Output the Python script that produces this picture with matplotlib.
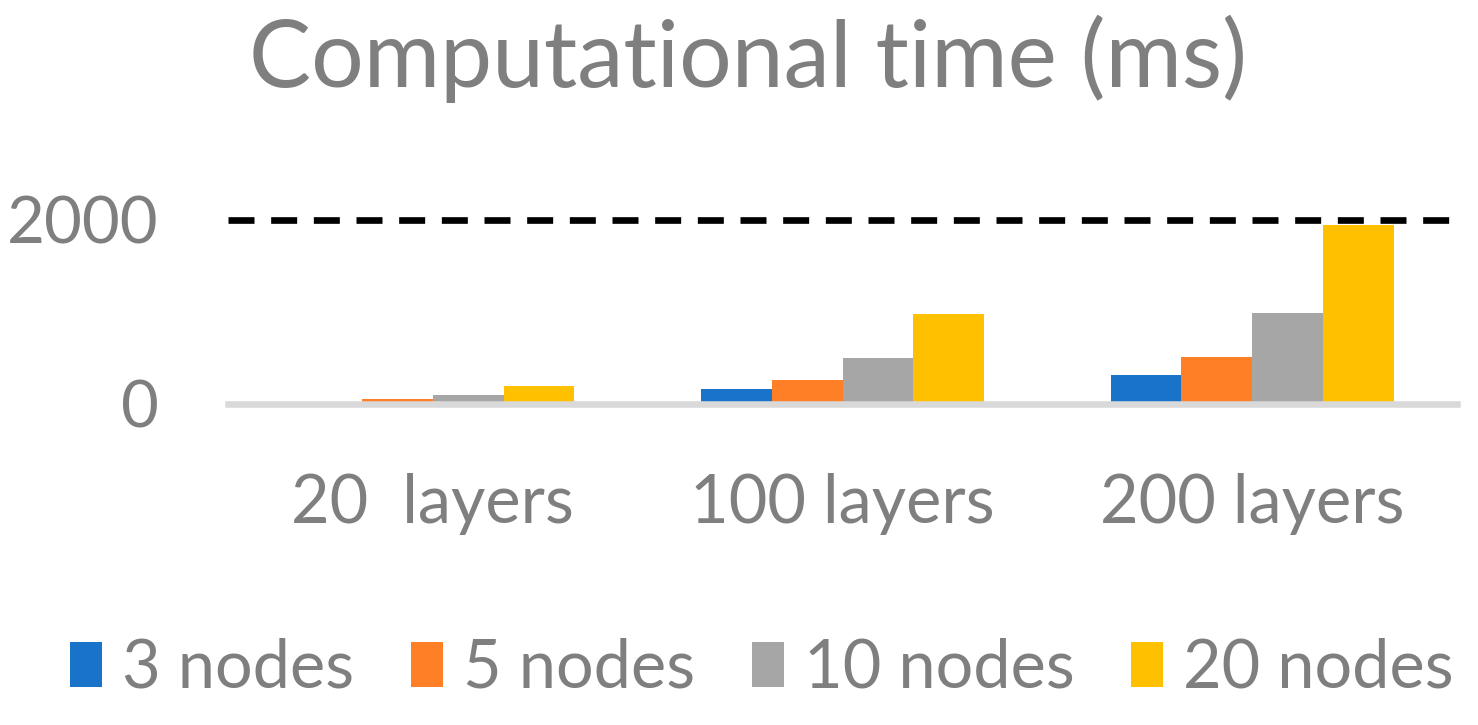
import numpy as np
import matplotlib
matplotlib.use("Agg")
import matplotlib.pyplot as plt
from matplotlib.patches import Patch

categories = ["20  layers", "100 layers", "200 layers"]
series_names = ["3 nodes", "5 nodes", "10 nodes", "20 nodes"]
nodes_3 = [15, 160, 315]
nodes_5 = [50, 260, 510]
nodes_10 = [100, 500, 990]
nodes_20 = [195, 980, 1950]
limit_ms = 2000
y_ticks = [0, 2000]

colors = ["#1873C9", "#FF7F27", "#A6A6A6", "#FFC000"]
text_color = "#7F7F7F"

plt.rcParams["font.family"] = ["Lato", "DejaVu Sans"]

W, H = 1478, 725
fig = plt.figure(figsize=(W / 100, H / 100), dpi=100)

# plot area in pixels: x 228..1457, zero at y=404, 2000 at y=220
ymax = 2200
px_per_unit = (404 - 220) / 2000
ax_h = ymax * px_per_unit
ax = fig.add_axes([228 / W, (H - 404) / H, (1457 - 228) / W, ax_h / H])

x = np.arange(len(categories))
w = 0.1726
values = [nodes_3, nodes_5, nodes_10, nodes_20]
for i, (vals, c) in enumerate(zip(values, colors)):
    ax.bar(x + (i - 1.5) * w, vals, w, color=c, zorder=2)

ax.axhline(limit_ms, color="black", lw=4.8, dashes=(3.9, 2.5), zorder=3, clip_on=False)

ax.set_xlim(-0.5, len(categories) - 0.5)
ax.set_ylim(0, ymax)
for s in ["top", "right", "left"]:
    ax.spines[s].set_visible(False)
ax.spines["bottom"].set_color("#D9D9D9")
ax.spines["bottom"].set_linewidth(4.7)
ax.spines["bottom"].set_zorder(4)

ax.set_yticks(y_ticks)
ax.set_yticklabels([str(t) for t in y_ticks])
ax.set_xticks(x)
ax.set_xticklabels(categories)
ax.tick_params(axis="y", length=0, pad=50, labelsize=47, labelcolor=text_color)
ax.tick_params(axis="x", length=0, pad=50, labelsize=48, labelcolor=text_color)

fig.text(748 / W, 1 - 87 / H, "Computational time (ms)", ha="center", va="baseline",
         fontsize=67, color=text_color)

handles = [Patch(facecolor=c) for c in colors]
leg = fig.legend(handles, series_names, loc="center", bbox_to_anchor=(762 / W, 1 - 669 / H),
                 ncol=4, frameon=False, fontsize=48, labelcolor=text_color,
                 handlelength=0.48, handleheight=0.66, handletextpad=0.3,
                 columnspacing=0.85, borderpad=0)

fig.savefig("out.png", dpi=100, facecolor="white")
